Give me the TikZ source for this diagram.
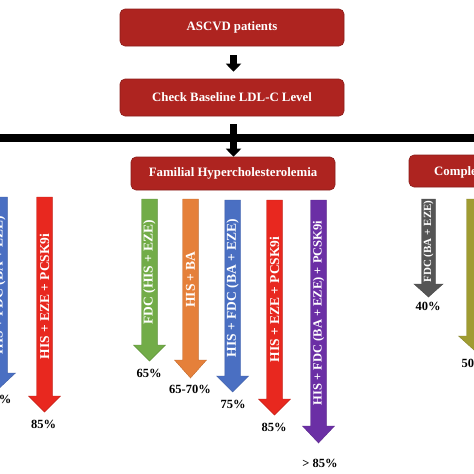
\documentclass[tikz,border=0pt]{standalone}
\usepackage{fontspec}
\setmainfont{Liberation Serif}
\usetikzlibrary{arrows.meta}
\definecolor{boxred}{HTML}{AE2420}
\definecolor{agreen}{HTML}{72AC48}
\definecolor{aorange}{HTML}{E5803A}
\definecolor{ablue}{HTML}{4A6FC2}
\definecolor{ared}{HTML}{E8281F}
\definecolor{apurple}{HTML}{6B2FA5}
\definecolor{agray}{HTML}{555555}
\definecolor{aolive}{HTML}{A09C32}
\newcommand\blkarrow[9]{%
  \filldraw[fill=#2, draw=#2!85!black, line width=0.4pt]
    (#3-#7,#4) -- (#3+#7,#4) -- (#3+#7,#5) -- (#3+#8,#5) -- (#3,#6)
    -- (#3-#8,#5) -- (#3-#7,#5) -- cycle;
  \node[arrowtext, rotate=90] (#1) at (#3,{(#4+#5)/2}) {#9};}
\tikzset{
  redbox/.style={rounded corners=5pt, fill=boxred, draw=boxred!80!black,
    line width=0.6pt, text=white, inner sep=0pt,
    font=\bfseries\fontsize{12.8}{14}\selectfont},
  boxtext/.style={text=white, inner sep=0pt,
    font=\bfseries\fontsize{12.8}{14}\selectfont},
  arrowtext/.style={text=white, inner sep=0pt,
    font=\bfseries\fontsize{13.5}{15}\selectfont},
  pct/.style={text=black, inner sep=0pt,
    font=\bfseries\fontsize{12.5}{14}\selectfont},
  flow/.style={line width=7pt, -{Triangle[length=8pt,width=15pt]}},
}
\begin{document}
\begin{tikzpicture}[x=1pt,y=-1pt]
\useasboundingbox (0,0) rectangle (474,474);
\clip (0,0) rectangle (474,474);
\fill[white] (0,0) rectangle (474,474);

% top boxes
\node[redbox, minimum width=224pt, minimum height=37pt] (asc) at (232,27.5) {ASCVD patients};
\node[redbox, minimum width=224pt, minimum height=37pt] (chk) at (232,97.5) {Check Baseline LDL-C Level};
\node[redbox, minimum width=204pt, minimum height=33pt] (fh) at (233,173.5) {Familial Hypercholesterolemia};
\node[redbox, minimum width=204pt, minimum height=32pt] (pad) at (-139,170) {};
\node[boxtext, anchor=east] (padt) at (27,171) {Peripheral Artery Disease (PAD)};
\node[redbox, minimum width=204pt, minimum height=32pt] (cpx) at (511,171) {};
\node[boxtext, anchor=west] (cpxt) at (434,172) {Complex Dyslipidemia};

% bar and black arrows
\coordinate (barL) at (0,138);
\coordinate (barR) at (474,138);
\draw[line width=8pt] (barL) -- (barR);
\draw[flow, shorten <=9pt, shorten >=7pt] (asc.south -| 233.5,0) -- (chk.north -| 233.5,0);
\draw[flow, shorten <=8pt] (chk.south -| 233.5,0) -- (fh.north -| 233.5,0);

% left group
\blkarrow{lblue}{ablue}{-0.5}{197}{373}{388}{7.8}{16}{HIS + FDC (BA + EZE)}
\node[pct] (lbluep) at (-1,399) {75\%};
\blkarrow{lred}{ared}{44.5}{197}{396}{412}{7.8}{16}{HIS + EZE + PCSK9i}
\node[pct] (lredp) at (43.5,424) {85\%};

% FH group
\blkarrow{fgreen}{agreen}{149.5}{199}{345}{361}{7.8}{16}{FDC (HIS + EZE)}
\node[pct] (fgreenp) at (149,373) {65\%};
\blkarrow{forange}{aorange}{190.5}{199}{360}{378}{7.8}{16}{HIS + BA}
\node[pct] (forangep) at (190,389) {65-70\%};
\blkarrow{fblue}{ablue}{232.7}{200}{376}{392}{7.8}{16}{HIS + FDC (BA + EZE)}
\node[pct] (fbluep) at (233,404) {75\%};
\blkarrow{fred}{ared}{274.5}{200}{399}{415}{7.8}{16}{HIS + EZE + PCSK9i}
\node[pct] (fredp) at (274,427) {85\%};
\tikzset{arrowtext/.append style={font=\bfseries\fontsize{12.5}{14}\selectfont}}
\blkarrow{fpurple}{apurple}{318.5}{200}{426}{443}{7.8}{16}{HIS + FDC (BA + EZE) + PCSK9i}
\node[pct] (fpurplep) at (320,463) {> 85\%};

% right group
\tikzset{arrowtext/.append style={font=\bfseries\fontsize{11}{13}\selectfont}}
\blkarrow{rgray}{agray}{428.5}{199}{284}{297}{7}{14.5}{FDC (BA + EZE)}
\node[pct] (rgrayp) at (428,306) {40\%};
\blkarrow{rolive}{aolive}{474}{199}{336}{350}{7.5}{15.5}{}
\node[pct] (rolivep) at (474,363) {50\%};
\end{tikzpicture}
\end{document}
